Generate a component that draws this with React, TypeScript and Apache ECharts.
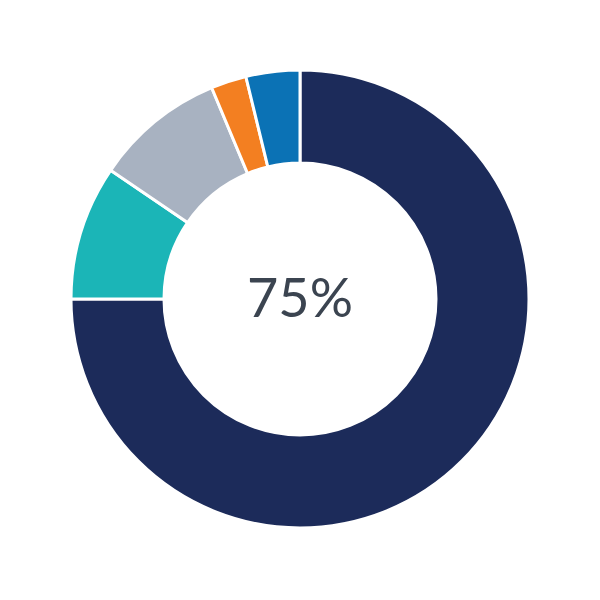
import React, { useEffect, useRef } from "react";
import * as echarts from "echarts";

const categories = ["A", "B", "C", "D", "E"];
const values = [75, 9.5, 9.2, 2.5, 3.8];
const colors = ["#1c2b5a", "#1bb5b7", "#a8b2c1", "#f37f21", "#0b72b5"];
const centerLabel = "75%";

export default function App() {
  const ref = useRef<HTMLDivElement>(null);
  useEffect(() => {
    const chart = echarts.init(ref.current!, null, { renderer: "svg" });
    chart.setOption({
      animation: false,
      graphic: [
        {
          type: "text",
          x: 300,
          y: 296,
          style: {
            text: centerLabel,
            fontSize: 54,
            fontFamily: "Lato",
            fill: "#3b4450",
            align: "center",
            verticalAlign: "middle",
          },
        },
      ],
      series: [
        {
          type: "pie",
          center: [300, 299],
          radius: [136, 229],
          startAngle: 90,
          clockwise: true,
          label: { show: false },
          labelLine: { show: false },
          emphasis: { disabled: true },
          itemStyle: { borderColor: "#ffffff", borderWidth: 3 },
          data: categories.map((c, i) => ({
            name: c,
            value: values[i],
            itemStyle: { color: colors[i] },
          })),
        },
      ],
    });
    return () => chart.dispose();
  }, []);
  return (
    <div
      ref={ref}
      style={{ position: "fixed", left: 0, top: 0, width: 600, height: 600, background: "#fff" }}
    />
  );
}
